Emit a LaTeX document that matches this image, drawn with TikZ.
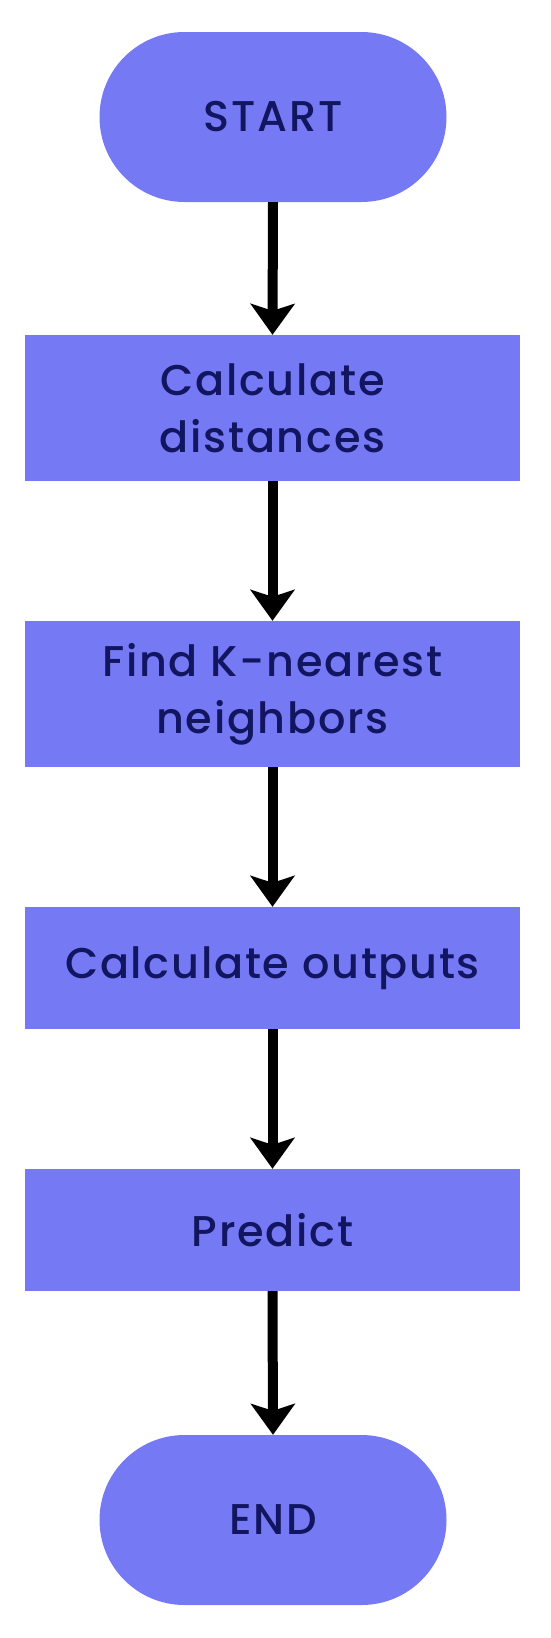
\documentclass[tikz,border=0pt]{standalone}
\usepackage{fontspec}
\setmainfont[LetterSpace=4]{Poppins Medium}
\usetikzlibrary{arrows.meta,shapes.misc}
\definecolor{boxfill}{HTML}{7579F4}
\definecolor{txt}{HTML}{121560}
\begin{document}
\begin{tikzpicture}[x=1pt,y=-1pt,
  box/.style={fill=boxfill, draw=none, text=txt, align=center, inner sep=0pt,
    minimum width=495pt, font=\fontsize{43}{57}\selectfont},
  term/.style={box, rounded rectangle, minimum width=347pt, minimum height=170pt},
  flow/.style={line width=10pt, -{Stealth[length=31pt,width=44pt,inset=7pt]}}]
\useasboundingbox (0,0) rectangle (550,1638);
\node[term] (start) at (273,117) {START};
\node[box, minimum height=146pt] (r1) at (272.5,408) {Calculate\\distances};
\node[box, minimum height=146pt] (r2) at (272.5,694) {Find K-nearest\\neighbors};
\node[box, minimum height=122pt] (r3) at (272.5,968) {Calculate outputs};
\node[box, minimum height=122pt] (r4) at (272.5,1230) {Predict};
\node[term] (end) at (273,1520) {END};
\draw[flow] (start.south) -- (r1.north);
\draw[flow] (r1.south) -- (r2.north);
\draw[flow] (r2.south) -- (r3.north);
\draw[flow] (r3.south) -- (r4.north);
\draw[flow] (r4.south) -- (end.north);
\end{tikzpicture}
\end{document}
